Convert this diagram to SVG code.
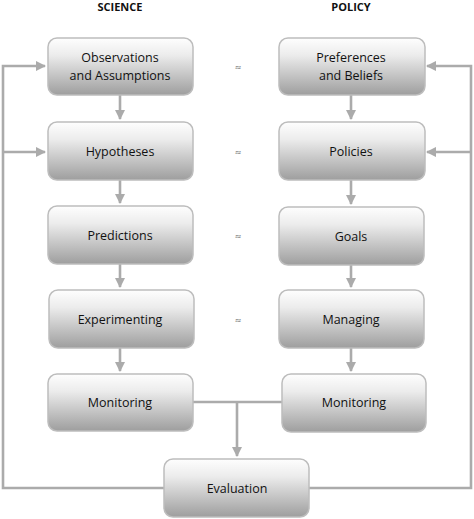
<svg xmlns="http://www.w3.org/2000/svg" width="474" height="519" viewBox="0 0 474 519">
<defs>
<linearGradient id="g" x1="0" y1="0" x2="0" y2="1">
<stop offset="0" stop-color="#fefefe"/>
<stop offset="0.3" stop-color="#ececec"/>
<stop offset="1" stop-color="#9e9e9e"/>
</linearGradient>
<marker id="ah" viewBox="0 0 10 10" refX="9" refY="5" markerWidth="4" markerHeight="4" orient="auto" markerUnits="strokeWidth">
<path d="M0,0 L10,5 L0,10 z" fill="#ababab"/>
</marker>
<style>
.box{fill:url(#g);stroke:#bdbdbd;stroke-width:1.5}
.lbl{font-family:"Open Sans","Liberation Sans",sans-serif;font-size:12.5px;fill:#111;text-anchor:middle}
.hd{font-family:"Open Sans","Liberation Sans",sans-serif;font-size:11px;font-weight:bold;fill:#111;text-anchor:middle}
.ap{font-family:"DejaVu Sans",sans-serif;font-size:8px;fill:#666;text-anchor:middle}
.ln{fill:none;stroke:#ababab;stroke-width:2.6}
</style>
</defs>
<text class="hd" x="120" y="11">SCIENCE</text>
<text class="hd" x="351" y="11">POLICY</text>
<g id="connectors">
<path class="ln" d="M120,95 V119" marker-end="url(#ah)"/>
<path class="ln" d="M120,180 V203" marker-end="url(#ah)"/>
<path class="ln" d="M120,264 V287" marker-end="url(#ah)"/>
<path class="ln" d="M120,348 V371" marker-end="url(#ah)"/>
<path class="ln" d="M351,95 V119" marker-end="url(#ah)"/>
<path class="ln" d="M351,180 V204" marker-end="url(#ah)"/>
<path class="ln" d="M351,265 V287" marker-end="url(#ah)"/>
<path class="ln" d="M351,348 V371" marker-end="url(#ah)"/>
<path class="ln" d="M193,402 H282"/>
<path class="ln" d="M237,402 V456" marker-end="url(#ah)"/>
<path class="ln" d="M164,488 H3 V66 H45" marker-end="url(#ah)"/>
<path class="ln" d="M3,152 H45" marker-end="url(#ah)"/>
<path class="ln" d="M309,488 H471 V66 H427" marker-end="url(#ah)"/>
<path class="ln" d="M471,152 H427" marker-end="url(#ah)"/>
</g>
<g id="approx">
<text class="ap" x="238" y="70">≈</text>
<text class="ap" x="238" y="155">≈</text>
<text class="ap" x="238" y="239">≈</text>
<text class="ap" x="238" y="323">≈</text>
</g>
<g id="observations"><rect class="box" x="48" y="38" width="145" height="57" rx="9"/><text class="lbl" x="120" y="62">Observations</text><text class="lbl" x="120" y="80">and Assumptions</text></g>
<g id="hypotheses"><rect class="box" x="48" y="122" width="145" height="58" rx="9"/><text class="lbl" x="120" y="155.5">Hypotheses</text></g>
<g id="predictions"><rect class="box" x="48" y="206" width="145" height="58" rx="9"/><text class="lbl" x="120" y="239.5">Predictions</text></g>
<g id="experimenting"><rect class="box" x="49" y="290" width="145" height="58" rx="9"/><text class="lbl" x="120" y="323.5">Experimenting</text></g>
<g id="monitoring-science"><rect class="box" x="48" y="374" width="145" height="57" rx="9"/><text class="lbl" x="120" y="406.5">Monitoring</text></g>
<g id="preferences"><rect class="box" x="279" y="38" width="146" height="57" rx="9"/><text class="lbl" x="351" y="62">Preferences</text><text class="lbl" x="351" y="80">and Beliefs</text></g>
<g id="policies"><rect class="box" x="279" y="122" width="146" height="58" rx="9"/><text class="lbl" x="351" y="155.5">Policies</text></g>
<g id="goals"><rect class="box" x="279" y="207" width="145" height="58" rx="9"/><text class="lbl" x="351" y="240.5">Goals</text></g>
<g id="managing"><rect class="box" x="279" y="290" width="145" height="58" rx="9"/><text class="lbl" x="351" y="323.5">Managing</text></g>
<g id="monitoring-policy"><rect class="box" x="282" y="374" width="144" height="58" rx="9"/><text class="lbl" x="354" y="407">Monitoring</text></g>
<g id="evaluation"><rect class="box" x="164" y="459" width="145" height="58" rx="9"/><text class="lbl" x="237" y="492.5">Evaluation</text></g>
</svg>
